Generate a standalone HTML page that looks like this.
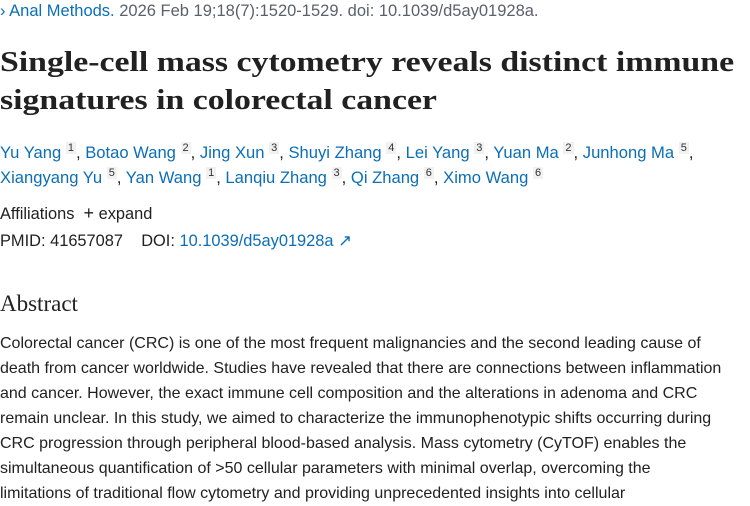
<!DOCTYPE html>
<html><head><meta charset="utf-8"><style>
body{margin:0;width:750px;height:500px;overflow:hidden;background:#fff;font-family:"Liberation Sans",sans-serif;color:#212121}
.a{position:absolute;left:0;white-space:nowrap}
.blue{color:#0b6eb6}
.gray{color:#5b616b}
h1{margin:0;font-family:"Liberation Serif",serif;font-weight:bold;font-size:29px;line-height:38px;color:#212121;transform:scaleX(1.165);transform-origin:0 0}
sup{font-size:11px;background:#f1f1f1;color:#333;padding:0 2px;vertical-align:baseline;position:relative;top:-7px;line-height:0}
.p{font-size:16px;line-height:25px}
</style></head><body>
<div class="a" style="top:2px;font-size:16.5px"><span class="blue">&#8250; Anal Methods.</span> <span class="gray">2026 Feb 19;18(7):1520-1529. doi: 10.1039/d5ay01928a.</span></div>
<h1 class="a" style="top:43px">Single-cell mass cytometry reveals distinct immune<br>signatures in colorectal cancer</h1>
<div class="a" style="top:140px;font-size:16.6px;line-height:25px"><span class="blue">Yu Yang</span> <sup>1</sup>, <span class="blue">Botao Wang</span> <sup>2</sup>, <span class="blue">Jing Xun</span> <sup>3</sup>, <span class="blue">Shuyi Zhang</span> <sup>4</sup>, <span class="blue">Lei Yang</span> <sup>3</sup>, <span class="blue">Yuan Ma</span> <sup>2</sup>, <span class="blue">Junhong Ma</span> <sup>5</sup>,<br><span class="blue">Xiangyang Yu</span> <sup>5</sup>, <span class="blue">Yan Wang</span> <sup>1</sup>, <span class="blue">Lanqiu Zhang</span> <sup>3</sup>, <span class="blue">Qi Zhang</span> <sup>6</sup>, <span class="blue">Ximo Wang</span> <sup>6</sup></div>
<div class="a p" style="top:201px;font-size:16.4px">Affiliations &nbsp;<span style="font-size:18px">+</span> expand</div>
<div class="a p" style="top:229px;font-size:16.4px">PMID: 41657087 &nbsp;&nbsp; DOI: <span class="blue">10.1039/d5ay01928a &#8599;</span></div>
<div class="a" style="top:291px;font-family:'Liberation Serif',serif;font-size:23px">Abstract</div>
<div class="a p" style="top:331px">Colorectal cancer (CRC) is one of the most frequent malignancies and the second leading cause of<br>death from cancer worldwide. Studies have revealed that there are connections between inflammation<br>and cancer. However, the exact immune cell composition and the alterations in adenoma and CRC<br>remain unclear. In this study, we aimed to characterize the immunophenotypic shifts occurring during<br>CRC progression through peripheral blood-based analysis. Mass cytometry (CyTOF) enables the<br>simultaneous quantification of &gt;50 cellular parameters with minimal overlap, overcoming the<br>limitations of traditional flow cytometry and providing unprecedented insights into cellular</div>
</body></html>
